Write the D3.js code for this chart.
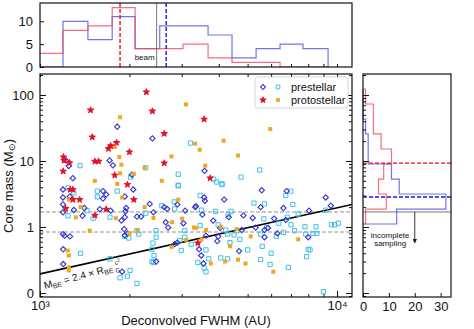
<!DOCTYPE html>
<html>
<head>
<meta charset="utf-8">
<script src="https://cdn.jsdelivr.net/npm/d3@7"></script>
<style>
  body { margin: 0; background: #fff; }
  text { font-family: "Liberation Sans", Arial, sans-serif; fill: #111; }
</style>
</head>
<body>
<div id="chart"></div>
<script>
// ---- data ----
// [deconvolved FWHM (AU), core mass (Msun)]
const protoStars = [[2280,111],[1480,59],[2390,57],[1500,23],[2620,26],[1810,19],[1730,17],[1700,15.4],[2000,13.7],[1200,11.5],[1205,10.2],[1257,9.4],[1530,9.9],[1575,9.9],[2620,9.3],[1197,7.0],[1785,6.1],[1970,4.4],[3570,43],[3740,5.5],[1265,3.7],[1290,3.7],[1290,2.6],[1360,2.6],[1220,1.9],[1530,1.5],[1670,1.86],[2070,2.6],[3400,0.57]];
const protoSquares = [[3100,72],[1860,46],[1785,16.3],[1850,11.5],[2770,11.7],[1880,8.8],[2250,7.9],[1860,6.5],[2070,6.4],[1530,5.0],[2570,5.0],[1820,4.5],[3330,18.3],[5960,30.5],[4150,20.3],[3450,14.8],[4640,12.1],[3600,8.5],[1250,2.6],[1370,2.0],[1320,1.4],[1890,2.8],[1470,0.88],[1800,1.36],[2250,2.0],[2410,1.37],[2130,0.88],[2000,0.80],[2780,1.18],[3010,1.34],[3300,0.98],[2920,2.6],[2770,0.50],[3110,0.64],[1240,0.44],[1250,0.37],[1250,0.245],[1250,0.22],[3350,0.97],[3620,0.90],[4060,1.01],[4600,0.93],[3500,0.65],[5120,0.72],[7400,0.65],[4360,0.51],[3760,0.28],[4200,0.30],[4640,0.32],[4920,0.28],[6100,0.21]];
const prestDiamonds = [[1820,33],[2390,22],[1223,10.2],[1250,8.4],[1715,10.2],[1760,8.6],[1290,5.5],[2040,6.2],[3580,7.1],[1195,3.7],[1195,2.8],[1195,2.2],[1195,1.67],[1195,0.78],[1210,0.74],[1262,0.72],[1197,0.46],[1197,0.275],[1300,1.81],[1410,1.94],[1390,1.48],[1260,2.9],[1590,1.86],[1630,3.5],[1670,3.1],[1630,2.7],[1730,1.77],[2060,3.7],[1930,2.9],[1950,1.94],[1940,1.73],[1930,1.41],[1880,1.25],[1920,0.93],[1970,0.80],[1930,0.75],[2120,1.44],[2190,1.44],[2340,2.24],[2410,1.67],[2620,2.0],[2680,1.88],[2900,2.2],[3080,1.77],[3330,2.0],[2650,1.18],[2700,0.98],[3040,1.14],[2840,0.55],[2900,0.58],[1890,0.21],[2460,0.30],[5580,3.6],[6770,3.5],[9160,2.8],[9530,2.1],[3570,2.8],[3590,2.5],[3350,2.07],[4170,2.6],[5530,2.0],[6600,1.94],[8050,1.77],[3520,1.54],[4320,1.41],[4840,1.5],[5200,1.37],[6140,1.34],[6720,1.28],[3830,1.25],[4040,0.97],[4780,0.90],[5320,0.98],[5700,0.90],[5860,0.97],[6300,0.80],[8000,0.70],[3620,0.74],[3980,0.72],[3950,0.61],[5700,0.70],[3430,0.46],[3490,0.37],[3550,0.28],[4680,0.43]];
const prestSquares = [[3210,18.7],[1364,8.5],[2270,7.9],[2020,5.7],[2920,6.3],[2920,4.3],[5490,7.3],[4750,5.7],[3840,5.3],[3930,4.8],[4100,4.5],[1243,3.9],[1300,3.3],[1243,1.48],[1440,1.77],[1510,1.36],[1560,3.5],[1560,2.86],[1720,1.41],[1820,3.5],[2120,0.88],[2150,0.78],[2270,1.62],[2570,2.1],[2840,1.88],[2920,4.2],[2830,2.4],[3070,0.88],[1930,0.72],[1990,0.68],[2460,0.88],[2460,0.70],[2400,0.57],[2380,0.46],[2950,0.62],[2990,0.44],[3070,0.70],[3230,0.55],[1370,0.40],[1720,0.33],[1860,0.17],[1970,0.18],[2010,0.22],[2380,0.30],[2410,0.29],[2420,0.37],[2120,0.14],[4100,4.4],[6980,3.5],[6720,3.0],[3460,3.0],[5250,2.3],[5700,2.24],[7100,2.2],[9160,1.8],[3500,1.8],[3900,1.73],[4300,1.54],[4400,1.73],[5670,1.33],[6800,1.41],[7400,1.57],[3460,1.05],[3980,1.08],[4220,0.90],[4600,0.88],[5800,0.98],[6370,1.14],[7000,1.08],[7200,0.88],[7800,1.01],[8500,1.01],[9570,1.08],[9820,1.08],[10100,1.14],[4280,0.78],[4500,0.76],[4710,0.65],[5530,0.78],[6250,0.72],[6600,0.83],[7850,0.78],[8300,0.80],[8550,0.80],[4360,0.58],[3620,0.45],[3700,0.33],[4060,0.34],[4280,0.33],[5000,0.45],[5530,0.32],[5600,0.51],[6000,0.40],[5950,0.27],[6860,0.245],[8000,0.46],[8110,0.45],[7900,0.355],[3570,0.24],[3620,0.21],[3400,0.29],[9000,0.105]];

// top histogram (FWHM bins)
const sizeEdges = [990,1195,1450,1750,2090,2530,3030,3680,4430,5340,6430,7680,9330];
const sizeCountProto = [3,8,9,13,4,4,5,2,1,1,0,0];
const sizeCountPrest = [0,10,6,11,4,9,9,7,2,4,5,4];
const sizeMedianProto = 1860, sizeMedianPrest = 2660, beamSize = 2470;

// right histogram (mass bins, low -> high)
const massEdges = [1.11,1.87,3.16,5.3,9.0,15.2,25.7,43,73,123];
const massCountProto = [1,9,6,8,11,7,4,4,1];
const massCountPrest = [13,32,14,11,2,2,1,0,0];
const massMedianProto = 9.3, massMedianPrest = 2.85;
const completeMass = [1.69, 0.84];

// Bonnor-Ebert line end points
const beLineR = [1000, 11230];
const beLineM = [0.195, 2.19];

const yTickVals = [0.1, 1, 10, 100];
const yTickLabels = ["0", "1", "10", "100"];
const topTickVals = [0, 5, 10];
const sideTickVals = [0, 10, 20, 30];

// ---- layout ----
const W = 474, H = 329;
const svg = d3.select("#chart").append("svg").attr("width", W).attr("height", H);

const x = d3.scaleLog().domain([1000, 11230]).range([40, 352]);
const y = d3.scaleLog().domain([0.087, 208]).range([297, 74]);
const yTop = d3.scaleLinear().domain([0, 14]).range([67, 3]);
const xSide = d3.scaleLinear().domain([0, 34]).range([363, 451]);

const defs = svg.append("defs");
defs.append("clipPath").attr("id", "clipMain").append("rect").attr("x", 40).attr("y", 74).attr("width", 312).attr("height", 223);
defs.append("clipPath").attr("id", "clipTop").append("rect").attr("x", 40).attr("y", 3).attr("width", 312).attr("height", 64);
defs.append("marker").attr("id", "arr").attr("viewBox", "0 0 10 10").attr("refX", 9).attr("refY", 5)
  .attr("markerWidth", 5).attr("markerHeight", 5).attr("orient", "auto")
  .append("path").attr("d", "M0,0L10,5L0,10Z").attr("fill", "#222");

const minorX = [];
[1000, 10000].forEach(d => { for (let k = 1; k < 10; k++) if (d * k <= 11230) minorX.push(d * k); });
const minorY = [];
[0.01, 0.1, 1, 10, 100].forEach(d => { for (let k = 1; k < 10; k++) if (d * k >= 0.087 && d * k <= 208) minorY.push(d * k); });

function ticks(g, axis) {
  g.call(axis);
  g.select(".domain").remove();
  g.selectAll(".tick line").attr("stroke", "#111");
  g.selectAll(".tick text").style("font-family", "Liberation Sans, Arial, sans-serif").style("font-size", "13px").attr("fill", "#111");
}

function stepPath(edges, counts, sx, sy) {
  const pts = [[sx(edges[0]), sy(0)]];
  counts.forEach((c, i) => { pts.push([sx(edges[i]), sy(c)]); pts.push([sx(edges[i + 1]), sy(c)]); });
  pts.push([sx(edges[edges.length - 1]), sy(0)]);
  return d3.line()(pts);
}
function stepPathV(edges, counts, sx, sy) {
  const pts = [[sx(0), sy(edges[0])]];
  counts.forEach((c, i) => { pts.push([sx(c), sy(edges[i])]); pts.push([sx(c), sy(edges[i + 1])]); });
  pts.push([sx(0), sy(edges[edges.length - 1])]);
  return d3.line()(pts);
}

// ---- top histogram ----
const topG = svg.append("g");
const topPlot = topG.append("g").attr("clip-path", "url(#clipTop)");
topPlot.append("path").attr("d", stepPath(sizeEdges, sizeCountPrest, x, yTop))
  .attr("fill", "none").attr("stroke", "#5050ee").attr("stroke-width", 1.2).attr("opacity", 0.8);
topPlot.append("path").attr("d", stepPath(sizeEdges, sizeCountProto, x, yTop))
  .attr("fill", "none").attr("stroke", "#f04a62").attr("stroke-width", 1.2).attr("opacity", 0.8);
topPlot.append("line").attr("x1", x(beamSize)).attr("x2", x(beamSize)).attr("y1", 3).attr("y2", 67)
  .attr("stroke", "#666").attr("stroke-width", 0.9);
topPlot.append("line").attr("x1", x(sizeMedianProto)).attr("x2", x(sizeMedianProto)).attr("y1", 3).attr("y2", 67)
  .attr("stroke", "#e0102a").attr("stroke-width", 1.4).attr("stroke-dasharray", "4,2");
topPlot.append("line").attr("x1", x(sizeMedianPrest)).attr("x2", x(sizeMedianPrest)).attr("y1", 3).attr("y2", 67)
  .attr("stroke", "#1a1acc").attr("stroke-width", 1.4).attr("stroke-dasharray", "4,2");
topG.append("text").attr("x", x(beamSize) - 2).attr("y", 60).attr("text-anchor", "end")
  .style("font-size", "8px").text("beam");
topG.append("g").attr("transform", "translate(0,67)")
  .call(g => ticks(g, d3.axisBottom(x).tickValues(minorX).tickSize(-3).tickFormat("")));
topG.append("g").attr("transform", "translate(40,0)")
  .call(g => ticks(g, d3.axisLeft(yTop).tickValues(topTickVals).tickSize(-4).tickPadding(7).tickFormat(d3.format("d"))));
topG.append("rect").attr("x", 40).attr("y", 3).attr("width", 312).attr("height", 64)
  .attr("fill", "none").attr("stroke", "#111").attr("stroke-width", 1.2);

// ---- main scatter ----
const mainG = svg.append("g");
const plot = mainG.append("g").attr("clip-path", "url(#clipMain)");
completeMass.forEach(m => {
  plot.append("line").attr("x1", 40).attr("x2", 352).attr("y1", y(m)).attr("y2", y(m))
    .attr("stroke", "#888").attr("stroke-width", 0.9).attr("stroke-dasharray", "4,2");
});
plot.append("line").attr("x1", x(beLineR[0])).attr("y1", y(beLineM[0]))
  .attr("x2", x(beLineR[1])).attr("y2", y(beLineM[1])).attr("stroke", "#000").attr("stroke-width", 1.6);

const sq = d3.symbol().type(d3.symbolSquare);
const star = d3.symbol().type(d3.symbolStar);
plot.append("g").selectAll("path").data(prestSquares).join("path")
  .attr("transform", d => `translate(${x(d[0])},${y(d[1])})`)
  .attr("d", sq.size(18)()).attr("fill", "none").attr("stroke", "#3ec0ea").attr("stroke-width", 1);
plot.append("g").selectAll("path").data(prestDiamonds).join("path")
  .attr("transform", d => `translate(${x(d[0])},${y(d[1])}) rotate(45)`)
  .attr("d", sq.size(14)()).attr("fill", "none").attr("stroke", "#3434cc").attr("stroke-width", 1.1);
plot.append("g").selectAll("path").data(protoSquares).join("path")
  .attr("transform", d => `translate(${x(d[0])},${y(d[1])})`)
  .attr("d", sq.size(16)()).attr("fill", "#f3a51e");
plot.append("g").selectAll("path").data(protoStars).join("path")
  .attr("transform", d => `translate(${x(d[0])},${y(d[1])})`)
  .attr("d", star.size(11)()).attr("fill", "#e3112d").attr("stroke", "#e3112d").attr("stroke-width", 1.1)
  .attr("stroke-linejoin", "round");

// BE label
const lab = mainG.append("text").attr("transform", "translate(45,289) rotate(-15)").style("font-size", "10px");
lab.append("tspan").text("M");
lab.append("tspan").attr("dy", 2).style("font-size", "7px").text("BE");
lab.append("tspan").attr("dy", -2).text(" = 2.4 × R");
lab.append("tspan").attr("dy", 2).style("font-size", "7px").text("BE");
lab.append("tspan").attr("dy", -7).attr("dx", 3).style("font-size", "6px").text("c");
lab.append("tspan").attr("dy", -2).style("font-size", "5px").text("2");
lab.append("tspan").attr("dy", 10).attr("dx", -7).style("font-size", "6px").text("G");

// axes ticks
mainG.append("g").attr("transform", "translate(0,297)")
  .call(g => ticks(g, d3.axisBottom(x).tickValues(minorX).tickSize(-3).tickFormat("")));
mainG.append("g").attr("transform", "translate(0,297)")
  .call(g => ticks(g, d3.axisBottom(x).tickValues([1000, 10000]).tickSize(-6).tickPadding(4)
    .tickFormat(d => d === 1000 ? "10³" : "10⁴")));
mainG.append("g").attr("transform", "translate(0,74)")
  .call(g => ticks(g, d3.axisTop(x).tickValues(minorX).tickSize(-3).tickFormat("")));
mainG.append("g").attr("transform", "translate(40,0)")
  .call(g => ticks(g, d3.axisLeft(y).tickValues(minorY).tickSize(-3).tickFormat("")));
mainG.append("g").attr("transform", "translate(40,0)")
  .call(g => ticks(g, d3.axisLeft(y).tickValues(yTickVals).tickSize(-6).tickPadding(6)
    .tickFormat((d, i) => yTickLabels[i])));
mainG.append("g").attr("transform", "translate(352,0)")
  .call(g => ticks(g, d3.axisRight(y).tickValues(minorY).tickSize(-3).tickFormat("")));
mainG.append("g").attr("transform", "translate(352,0)")
  .call(g => ticks(g, d3.axisRight(y).tickValues(yTickVals).tickSize(-6).tickFormat("")));
mainG.append("rect").attr("x", 40).attr("y", 74).attr("width", 312).attr("height", 223)
  .attr("fill", "none").attr("stroke", "#111").attr("stroke-width", 1.2);

// legend
const leg = mainG.append("g");
leg.append("rect").attr("x", 255).attr("y", 77).attr("width", 93).attr("height", 31).attr("rx", 3)
  .attr("fill", "#fff").attr("stroke", "#ccc").attr("stroke-width", 0.8);
leg.append("path").attr("transform", "translate(263,87) rotate(45)").attr("d", sq.size(12)())
  .attr("fill", "none").attr("stroke", "#3434cc").attr("stroke-width", 1);
leg.append("path").attr("transform", "translate(278,87)").attr("d", sq.size(14)())
  .attr("fill", "none").attr("stroke", "#3ec0ea").attr("stroke-width", 1);
leg.append("path").attr("transform", "translate(263,100)").attr("d", star.size(10)())
  .attr("fill", "#e3112d").attr("stroke", "#e3112d").attr("stroke-width", 1.1).attr("stroke-linejoin", "round");
leg.append("path").attr("transform", "translate(278,100)").attr("d", sq.size(14)()).attr("fill", "#f3a51e");
leg.append("text").attr("x", 291).attr("y", 91).style("font-size", "11px").text("prestellar");
leg.append("text").attr("x", 291).attr("y", 104).style("font-size", "11px").text("protostellar");

// axis titles
svg.append("text").attr("x", 196).attr("y", 325).attr("text-anchor", "middle").style("font-size", "13px")
  .text("Deconvolved FWHM (AU)");
const yt = svg.append("text").attr("transform", "translate(13,186) rotate(-90)").attr("text-anchor", "middle")
  .style("font-size", "13px");
yt.append("tspan").text("Core mass (M");
yt.append("tspan").attr("dy", 2).style("font-size", "9px").text("⊙");
yt.append("tspan").attr("dy", -2).text(")");

// ---- right histogram ----
const side = svg.append("g");
side.append("path").attr("d", stepPathV(massEdges, massCountPrest, xSide, y))
  .attr("fill", "none").attr("stroke", "#5050ee").attr("stroke-width", 1.2).attr("opacity", 0.8);
side.append("path").attr("d", stepPathV(massEdges, massCountProto, xSide, y))
  .attr("fill", "none").attr("stroke", "#f04a62").attr("stroke-width", 1.2).attr("opacity", 0.8);
side.append("line").attr("x1", 363).attr("x2", 451).attr("y1", y(massMedianProto)).attr("y2", y(massMedianProto))
  .attr("stroke", "#e0102a").attr("stroke-width", 1.4).attr("stroke-dasharray", "4,2");
side.append("line").attr("x1", 363).attr("x2", 451).attr("y1", y(massMedianPrest)).attr("y2", y(massMedianPrest))
  .attr("stroke", "#1a1acc").attr("stroke-width", 1.4).attr("stroke-dasharray", "4,2");
side.append("line").attr("x1", 363).attr("x2", 451).attr("y1", y(completeMass[0])).attr("y2", y(completeMass[0]))
  .attr("stroke", "#666").attr("stroke-width", 0.9);
side.append("line").attr("x1", xSide(20)).attr("x2", xSide(20)).attr("y1", y(completeMass[0])).attr("y2", y(completeMass[0]) + 31)
  .attr("stroke", "#222").attr("stroke-width", 0.9).attr("marker-end", "url(#arr)");
side.append("text").attr("x", xSide(10.5)).attr("y", y(completeMass[0]) + 26).attr("text-anchor", "middle")
  .style("font-size", "8px").text("incomplete");
side.append("text").attr("x", xSide(10.5)).attr("y", y(completeMass[0]) + 34).attr("text-anchor", "middle")
  .style("font-size", "8px").text("sampling");
side.append("g").attr("transform", "translate(0,297)")
  .call(g => ticks(g, d3.axisBottom(xSide).tickValues(sideTickVals).tickSize(-4).tickPadding(5).tickFormat(d3.format("d"))));
side.append("g").attr("transform", "translate(363,0)")
  .call(g => ticks(g, d3.axisLeft(y).tickValues(minorY).tickSize(-3).tickFormat("")));
side.append("g").attr("transform", "translate(363,0)")
  .call(g => ticks(g, d3.axisLeft(y).tickValues(yTickVals).tickSize(-6).tickFormat("")));
side.append("rect").attr("x", 363).attr("y", 74).attr("width", 88).attr("height", 223)
  .attr("fill", "none").attr("stroke", "#111").attr("stroke-width", 1.2);
</script>
</body>
</html>
